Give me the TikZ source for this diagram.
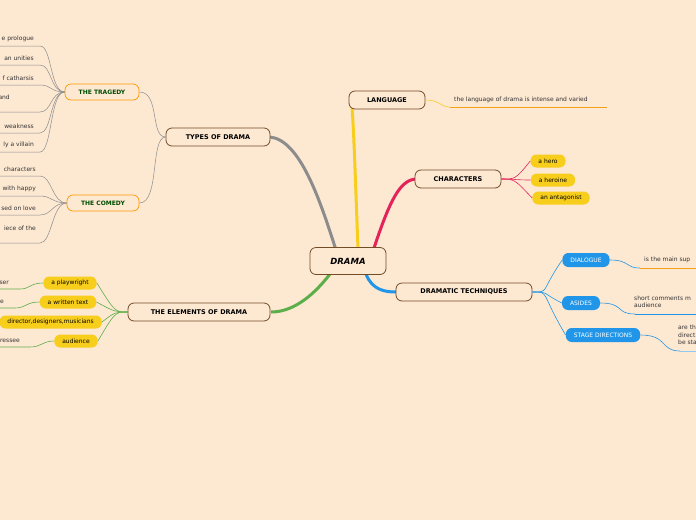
\documentclass[tikz,border=0pt]{standalone}
\usepackage{fontspec}
\setmainfont{DejaVu Sans}
\begin{document}
\begin{tikzpicture}[x=1pt,y=-1pt,font=\fontsize{6}{7.5}\selectfont,
 main/.style={draw=brown!60!black,fill=bgc,rounded corners=6pt,line width=0.8pt,minimum height=18pt,font=\fontsize{6.5}{8}\selectfont\bfseries},
 sub/.style={draw=orange!80!yellow,fill=bgc,rounded corners=6pt,line width=0.7pt,minimum height=16pt,text=green!30!black,font=\fontsize{6}{7}\selectfont\bfseries},
 pill/.style={fill=yel,rounded corners=6pt,minimum height=13pt,inner xsep=8pt},
 bpill/.style={fill=blu,rounded corners=6pt,minimum height=14pt,inner xsep=8pt,text=white},
 leaf/.style={align=left,inner sep=1pt,text=black!80},
 gl/.style={draw=gray!90,line width=0.5pt},
]
\definecolor{bgc}{HTML}{FDE8D2}
\definecolor{yel}{HTML}{F8CE1C}
\definecolor{blu}{HTML}{2196E8}
\definecolor{grn}{HTML}{5BAE4A}
\definecolor{org}{HTML}{F5A019}
\definecolor{crm}{HTML}{E3235A}
\fill[bgc] (0,0) rectangle (696,520);
\clip (0,0) rectangle (696,520);
% main connectors
\draw[gray!90,line width=3pt] (336,250) .. controls (320,200) and (300,140) .. (270,137);
\draw[yel,line width=3pt] (358,248) .. controls (356,200) and (354,130) .. (352,108);
\draw[crm,line width=3pt] (374,248) .. controls (390,200) and (400,180) .. (416,179);
\draw[blu,line width=3pt] (366,274) .. controls (372,290) and (385,292) .. (396,292);
\draw[grn,line width=3pt] (330,274) .. controls (310,300) and (290,312) .. (271,312);
\node[main,minimum width=76pt,minimum height=27pt,font=\fontsize{8.5}{10}\selectfont\bfseries\itshape] (drama) at (348,261) {DRAMA};
\node[main,minimum width=104pt] (types) at (218,137) {TYPES OF DRAMA};
\node[main,minimum width=76pt] (lang) at (387,100) {LANGUAGE};
\node[main,minimum width=86pt] (char) at (458,179) {CHARACTERS};
\node[main,minimum width=136pt] (tech) at (464,292) {DRAMATIC TECHNIQUES};
\node[main,minimum width=142pt] (elem) at (199,312) {THE ELEMENTS OF DRAMA};
\node[sub,minimum width=74pt] (trag) at (102,92) {THE TRAGEDY};
\node[sub,minimum width=72pt] (com) at (103,203) {THE COMEDY};
\draw[gl] (types.west) .. controls (150,137) and (160,92) .. (trag.east);
\draw[gl] (types.west) .. controls (150,137) and (160,203) .. (com.east);
% tragedy leaves
\foreach \t/\x/\y/\u in {e prologue/35/39/46, an unities/35/58/65, f catharsis/35/78/85, and/11/97/112, weakness/35/126/133, ly a villain/35/145/152}{
 \node[leaf,anchor=east] at (\x,\y) {\t};
 \draw[gl] (0,\u) -- (40,\u) .. controls (52,\u) and (50,92) .. (trag.west);
}
\foreach \t/\x/\y/\u in {characters/37/169/176, with happy/37/189/196, sed on love/37/208/215, iece of the/37/228/243}{
 \node[leaf,anchor=east] at (\x,\y) {\t};
 \draw[gl] (0,\u) -- (40,\u) .. controls (52,\u) and (52,203) .. (com.west);
}
% language
\node[leaf,anchor=west] (langt) at (453,100) {the language of drama is intense and varied};
\draw[yel,line width=0.6pt] (lang.east) .. controls (440,100) and (440,107) .. (450,107);
\draw[org,line width=0.8pt] (450,107) -- (607,107);
% characters
\node[pill] (hero) at (548,161) {a hero};
\node[pill] (heroine) at (553,180) {a heroine};
\node[pill] (ant) at (561,198) {an antagonist};
\foreach \n in {hero,heroine,ant}
 \draw[crm,line width=0.6pt] (char.east) .. controls (515,179) and (515,180) .. (\n.west);
% techniques
\node[bpill] (dia) at (586,260) {DIALOGUE};
\node[bpill] (asi) at (581,303) {ASIDES};
\node[bpill] (sd) at (603,335) {STAGE DIRECTIONS};
\foreach \n in {dia,asi,sd}
 \draw[blu,line width=0.6pt] (tech.east) .. controls (550,292) and (540,292) .. (\n.west);
\node[leaf,anchor=west] at (643,260) {is the main sup};
\draw[blu,line width=0.6pt] (dia.east) .. controls (630,260) and (625,268) .. (640,268);
\draw[org,line width=0.8pt] (640,268) -- (696,268);
\node[leaf,anchor=west] at (633,302) {short comments m\\audience};
\draw[blu,line width=0.6pt] (asi.east) .. controls (625,303) and (615,314) .. (635,314);
\draw[blu,line width=0.8pt] (635,314) -- (696,314);
\node[leaf,anchor=west] at (677,335) {are th\\direct\\be sta};
\draw[blu,line width=0.6pt] (sd.east) .. controls (668,335) and (660,351) .. (680,351);
\draw[blu!50,line width=0.8pt] (680,351) -- (696,351);
% elements
\node[pill] (pw) at (70,283) {a playwright};
\node[pill] (wt) at (68,302) {a written text};
\node[pill,anchor=east] (dir) at (102,322) {director,designers,musicians};
\node[pill] (aud) at (76,341) {audience};
\foreach \n in {pw,wt,dir,aud}
 \draw[grn,line width=0.6pt] (elem.west) .. controls (115,312) and (115,312) .. (\n.east);
\node[leaf,anchor=east] at (10,283) {ser};
\draw[grn,line width=0.6pt] (0,289) -- (20,289) .. controls (30,289) and (30,283) .. (pw.west);
\node[leaf,anchor=east] at (5,302) {e};
\draw[grn,line width=0.6pt] (0,308) -- (15,308) .. controls (26,308) and (26,302) .. (wt.west);
\node[leaf,anchor=east] at (21,341) {ressee};
\draw[grn,line width=0.6pt] (0,347) -- (30,347) .. controls (42,347) and (42,341) .. (aud.west);
\end{tikzpicture}
\end{document}
